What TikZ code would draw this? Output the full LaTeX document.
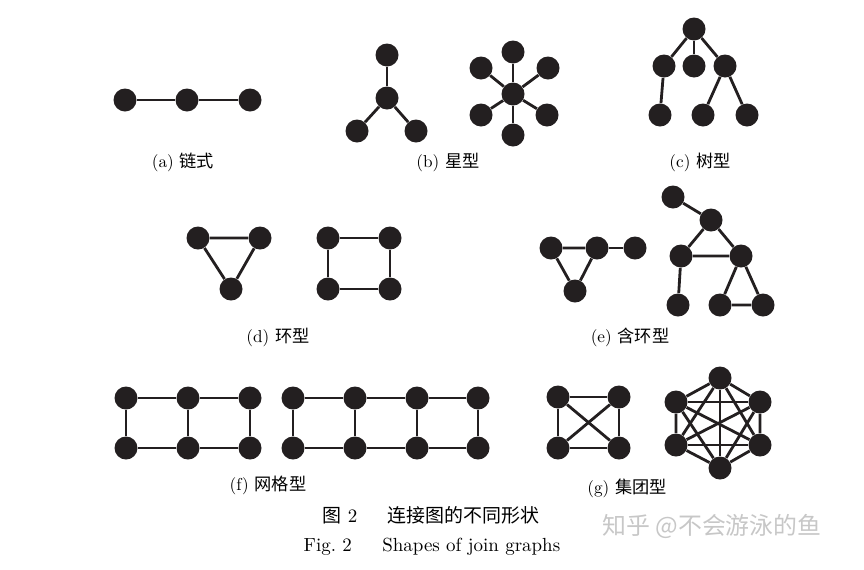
\documentclass[tikz,border=0pt]{standalone}
\usepackage{fontspec}
\newfontfamily\cjk{Noto Sans CJK SC}
\definecolor{nodegray}{HTML}{231F20}

\begin{document}
\begin{tikzpicture}[x=0.02cm,y=-0.02cm,
	vtx/.style={circle,fill=nodegray,inner sep=0pt,minimum size=0.46cm},
	lnk/.style={line width=1.6pt,draw=nodegray},
	sub/.style={font=\fontsize{9.8}{12}\selectfont}]
	\useasboundingbox (0,0) rectangle (864,569);
	% (a) chain
	\node[vtx] (a1) at (125,100) {};
	\node[vtx] (a2) at (187,100) {};
	\node[vtx] (a3) at (250,100) {};
	\draw[lnk] (a1)--(a2)--(a3);
	\node[sub] (la) at (183,162) {(a) {\cjk 链式}};
	% (b) stars
	\node[vtx] (b0) at (387,98) {};
	\node[vtx] (b1) at (387,55) {};
	\node[vtx] (b2) at (357,131) {};
	\node[vtx] (b3) at (416,131) {};
	\draw[lnk] (b0)--(b1);
	\draw[lnk] (b0)--(b2);
	\draw[lnk] (b0)--(b3);
	\node[vtx] (s0) at (513,94) {};
	\node[vtx] (s1) at (513,52) {};
	\node[vtx] (s2) at (481,68) {};
	\node[vtx] (s3) at (548,68) {};
	\node[vtx] (s4) at (481,115) {};
	\node[vtx] (s5) at (547,115) {};
	\node[vtx] (s6) at (513,135) {};
	\draw[lnk] (s0)--(s1);
	\draw[lnk] (s0)--(s2);
	\draw[lnk] (s0)--(s3);
	\draw[lnk] (s0)--(s4);
	\draw[lnk] (s0)--(s5);
	\draw[lnk] (s0)--(s6);
	\node[sub] (lb) at (448,162) {(b) {\cjk 星型}};
	% (c) tree
	\node[vtx] (t0) at (694,29) {};
	\node[vtx] (t1) at (664,66) {};
	\node[vtx] (t2) at (694,66) {};
	\node[vtx] (t3) at (725,66) {};
	\node[vtx] (t4) at (660,115) {};
	\node[vtx] (t5) at (703,115) {};
	\node[vtx] (t6) at (747,115) {};
	\draw[lnk] (t0)--(t1);
	\draw[lnk] (t0)--(t2);
	\draw[lnk] (t0)--(t3);
	\draw[lnk] (t1)--(t4);
	\draw[lnk] (t3)--(t5);
	\draw[lnk] (t3)--(t6);
	\node[sub] (lc) at (700,162) {(c) {\cjk 树型}};
	% (d) rings
	\node[vtx] (d1) at (198,238) {};
	\node[vtx] (d2) at (260,238) {};
	\node[vtx] (d3) at (231,289) {};
	\draw[lnk] (d1)--(d2)--(d3)--(d1);
	\node[vtx] (q1) at (328,238) {};
	\node[vtx] (q2) at (390,238) {};
	\node[vtx] (q3) at (390,289) {};
	\node[vtx] (q4) at (328,289) {};
	\draw[lnk] (q1)--(q2)--(q3)--(q4)--(q1);
	\node[sub] (ld) at (278,337) {(d) {\cjk 环型}};
	% (e) with rings
	\node[vtx] (e1) at (551,248) {};
	\node[vtx] (e2) at (597,248) {};
	\node[vtx] (e3) at (635,248) {};
	\node[vtx] (e4) at (575,291) {};
	\draw[lnk] (e1)--(e2)--(e4)--(e1);
	\draw[lnk] (e2)--(e3);
	\node[vtx] (r0) at (673,197) {};
	\node[vtx] (r1) at (711,220) {};
	\node[vtx] (r2) at (681,256) {};
	\node[vtx] (r3) at (741,256) {};
	\node[vtx] (r4) at (678,305) {};
	\node[vtx] (r5) at (720,305) {};
	\node[vtx] (r6) at (763,305) {};
	\draw[lnk] (r0)--(r1);
	\draw[lnk] (r1)--(r2)--(r3)--(r1);
	\draw[lnk] (r2)--(r4);
	\draw[lnk] (r3)--(r5)--(r6)--(r3);
	\node[sub] (le) at (630,337) {(e) {\cjk 含环型}};
	% (f) grids
	\node[vtx] (f1) at (126,398) {};
	\node[vtx] (f2) at (188,398) {};
	\node[vtx] (f3) at (250,398) {};
	\node[vtx] (f4) at (126,448) {};
	\node[vtx] (f5) at (188,448) {};
	\node[vtx] (f6) at (250,448) {};
	\draw[lnk] (f1)--(f2)--(f3)--(f6)--(f5)--(f4)--(f1);
	\draw[lnk] (f2)--(f5);
	\node[vtx] (g1) at (293,398) {};
	\node[vtx] (g2) at (355,398) {};
	\node[vtx] (g3) at (417,398) {};
	\node[vtx] (g4) at (478,398) {};
	\node[vtx] (g5) at (293,448) {};
	\node[vtx] (g6) at (355,448) {};
	\node[vtx] (g7) at (417,448) {};
	\node[vtx] (g8) at (478,448) {};
	\draw[lnk] (g1)--(g2)--(g3)--(g4)--(g8)--(g7)--(g6)--(g5)--(g1);
	\draw[lnk] (g2)--(g6);
	\draw[lnk] (g3)--(g7);
	\node[sub] (lf) at (268,485) {(f) {\cjk 网格型}};
	% (g) cliques
	\node[vtx] (k1) at (558,397) {};
	\node[vtx] (k2) at (619,397) {};
	\node[vtx] (k3) at (619,448) {};
	\node[vtx] (k4) at (558,448) {};
	\draw[lnk] (k1)--(k2)--(k3)--(k4)--(k1);
	\draw[lnk] (k1)--(k3);
	\draw[lnk] (k2)--(k4);
	\node[vtx] (h1) at (720,378) {};
	\node[vtx] (h2) at (760,402) {};
	\node[vtx] (h3) at (760,445) {};
	\node[vtx] (h4) at (720,468) {};
	\node[vtx] (h5) at (676,445) {};
	\node[vtx] (h6) at (676,402) {};
	\draw[lnk] (h1)--(h2)--(h3)--(h4)--(h5)--(h6)--(h1);
	\draw[lnk] (h1)--(h3); \draw[lnk] (h1)--(h4); \draw[lnk] (h1)--(h5);
	\draw[lnk] (h2)--(h4); \draw[lnk] (h2)--(h5); \draw[lnk] (h2)--(h6);
	\draw[lnk] (h3)--(h5); \draw[lnk] (h3)--(h6);
	\draw[lnk] (h4)--(h6);
	\node[sub] (lg) at (627,488) {(g) {\cjk 集团型}};
	% captions
	\node[font=\fontsize{10.8}{13}\selectfont] (cap1) at (431,515) {{\cjk 图}~2\hspace{1.6em}{\cjk 连接图的不同形状}};
	\node[font=\fontsize{10.8}{13}\selectfont] (cap2) at (432,547) {Fig.~2\hspace{1.6em}Shapes of join graphs};
	\node[font=\cjk\fontsize{13.6}{16}\selectfont,text=black!22] (mark) at (712,526) {知乎 @不会游泳的鱼};
\end{tikzpicture}
\end{document}
